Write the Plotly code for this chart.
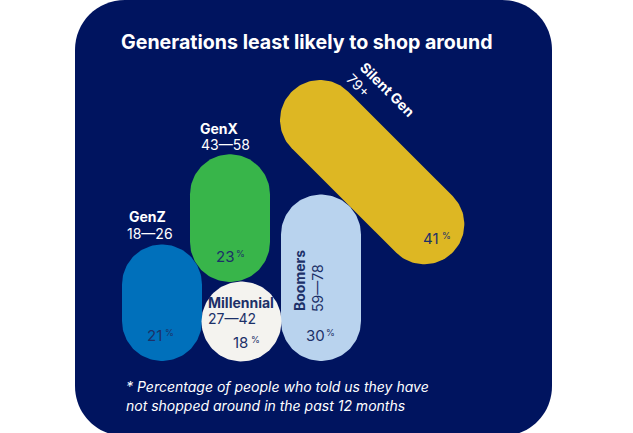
import numpy as np
import plotly.graph_objects as go

generations = ['GenZ', 'GenX', 'Silent Gen', 'Boomers', 'Millennial']
age_ranges = ['18—26', '43—58', '79+', '59—78', '27—42']
shares = [21, 23, 41, 30, 18]

NAVY = '#00145F'
INK = '#1C3068'
FONT = 'Inter'
WIDTH = 80
PX_PER_PCT = 5.55

pill_colors = ['#0070BB', '#38B54A', '#DDB723', '#B9D3EE', '#F4F3EF']
# first cap centre of each pill and direction it runs in
pill_starts = [(162, 321), (230, 242), (320, 120), (321, 321), (241.5, 321.5)]
pill_dirs = [(0, -1), (0, -1), (1, 1), (0, -1), (0, -1)]


def pill(start, direction, length):
    d = np.array(direction, float)
    d = d / np.hypot(*d)
    a0 = np.arctan2(d[1], d[0])
    t = np.linspace(-np.pi / 2, np.pi / 2, 60)
    x0, y0 = start
    span = max(length - WIDTH, 0)
    xa = x0 + span * d[0] + WIDTH / 2 * np.cos(a0 + t)
    ya = y0 + span * d[1] + WIDTH / 2 * np.sin(a0 + t)
    xb = x0 + WIDTH / 2 * np.cos(a0 + t + np.pi)
    yb = y0 + WIDTH / 2 * np.sin(a0 + t + np.pi)
    return np.r_[xa, xb, xa[0]], np.r_[ya, yb, ya[0]]


fig = go.Figure()

for name, share, color, start, direction in zip(generations, shares, pill_colors, pill_starts, pill_dirs):
    # Millennial is drawn as a plain circle in the original
    length = WIDTH if name == 'Millennial' else share * PX_PER_PCT
    px, py = pill(start, direction, length)
    fig.add_trace(go.Scatter(x=px, y=py, mode='lines', fill='toself', fillcolor=color,
                             line=dict(width=0, color=color), hoverinfo='skip', showlegend=False))


def label(x, y, text, size=14, color='white', bold=False, angle=0, align='center'):
    if bold:
        text = '<b>' + text + '</b>'
    fig.add_annotation(x=x, y=y, text=text, showarrow=False, textangle=angle, xanchor=align,
                       font=dict(family=FONT, size=size, color=color))


# number with the small raised percent sign next to it
def pct(x, y, value):
    label(x, y, str(value), size=15, color=INK)
    label(x + 15, y - 3, '%', size=9, color=INK)


label(307, 42, 'Generations least likely to shop around', size=19.6, bold=True)

label(147, 216, generations[0], bold=True)
label(150, 233, age_ranges[0])
pct(154, 335, shares[0])

label(219, 128, generations[1], bold=True)
label(225, 144, age_ranges[1])
pct(225, 256, shares[1])

label(388, 89, generations[2], bold=True, angle=45)
label(359, 85, age_ranges[2], angle=45)
pct(431, 238, shares[2])

label(299, 281, generations[3], bold=True, angle=-90, color=INK)
label(317, 288, age_ranges[3], angle=-90, color=INK)
pct(315, 335, shares[3])

label(241, 302, generations[4], bold=True, color=INK)
label(232, 318, age_ranges[4], color=INK)
pct(240, 342, shares[4])

label(124, 386, '<i>* Percentage of people who told us they have</i>', size=14, align='left')
label(124, 405, '<i>not shopped around in the past 12 months</i>', size=14, align='left')

fig.update_layout(
    width=633, height=433, margin=dict(l=0, r=0, t=0, b=0),
    paper_bgcolor='white', plot_bgcolor='white',
    shapes=[dict(type='path', layer='below', fillcolor=NAVY, line_width=0,
                 path='M75,50 C75,22 97,0 125,0 L502,0 C530,0 552,22 552,50 L552,386 '
                      'C552,414 530,436 502,436 L125,436 C97,436 75,414 75,386 Z')],
    xaxis=dict(range=[0, 633], visible=False),
    yaxis=dict(range=[433, 0], visible=False),
)

fig.write_html('out.html', config={'displayModeBar': False},
               post_script="document.body.style.margin='0';")
